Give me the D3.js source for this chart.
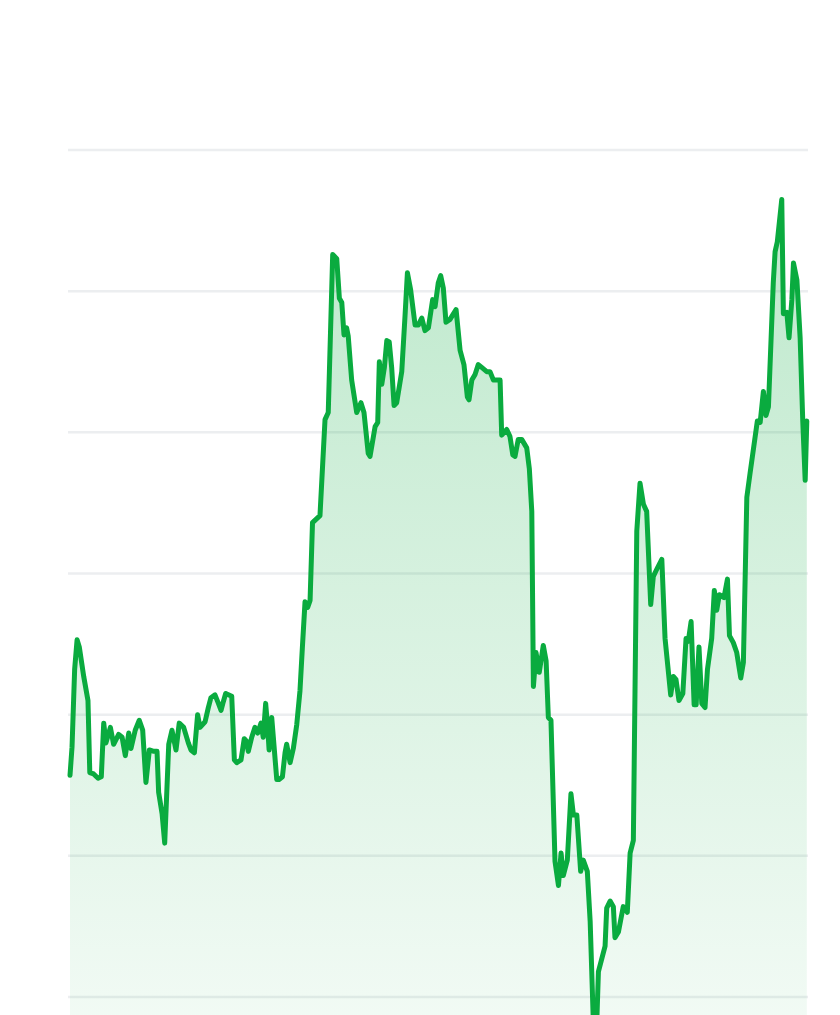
<!DOCTYPE html>
<html>
<head>
<meta charset="utf-8">
<script src="https://cdn.jsdelivr.net/npm/d3@7"></script>
<style>
  html, body { margin: 0; padding: 0; background: #ffffff; overflow: hidden; }
  svg { display: block; }
</style>
</head>
<body>
<svg id="chart" width="840" height="1015"></svg>
<script>
// Day index (0..365) of each reading
const days = [
  0, 1.0, 2.3, 3.5, 4.6, 6.8, 8.9, 9.8, 11.7, 13.9, 15.5, 16.7, 17.8, 20.0, 21.6, 24.1, 25.8, 27.4, 29.1, 30.2,
  32.3, 34.3, 36.0, 37.6, 39.3, 41.5, 43.1, 43.9, 45.6, 46.9, 48.9, 50.5, 52.5, 54.1, 56.3, 58.6, 59.9, 61.6, 63.2, 64.4,
  66.9, 68.5, 69.8, 71.8, 73.5, 74.8, 75.9, 77.1, 80.1, 81.4, 82.6, 84.7, 86.3, 87.5, 88.3, 90.0, 91.6, 93.0, 94.6, 95.7,
  96.9, 97.9, 98.6, 99.9, 100.7, 102.4, 103.5, 105.2, 106.5, 107.3, 109.0, 110.6, 112.3, 113.9, 115.1, 116.4, 117.7, 118.9, 120.1, 123.8,
  126.3, 127.9, 130.1, 132.1, 133.4, 134.6, 135.7, 137.0, 137.8, 139.5, 142.0, 144.1, 145.6, 147.7, 148.6, 151.1, 152.4, 153.2, 154.4, 155.7,
  156.9, 158.1, 159.3, 160.5, 161.8, 164.3, 165.9, 167.1, 168.7, 170.9, 172.5, 174.2, 175.8, 177.5, 179.6, 180.8, 182.4, 183.6, 184.9, 186.2,
  188.2, 191.2, 193.2, 195.1, 196.8, 197.6, 199.0, 200.6, 202.2, 203.9, 206.4, 208.0, 209.7, 213.0, 213.8, 216.3, 217.9, 219.3, 220.4, 222.0,
  223.7, 226.2, 227.5, 228.7, 229.5, 230.8, 232.4, 234.4, 235.8, 236.9, 238.2, 240.2, 241.9, 243.2, 244.3, 246.3, 248.1, 249.3, 251.0, 252.9,
  254.2, 256.2, 257.6, 259.3, 261.0, 261.7, 265.0, 265.8, 267.5, 269.1, 269.9, 271.6, 274.0, 276.0, 277.4, 279.0, 280.7, 282.3, 284.0, 285.6,
  287.6, 288.9, 290.6, 293.1, 294.7, 297.5, 298.8, 300.1, 301.6, 303.5, 305.1, 306.2, 307.6, 309.1, 310.1, 311.5, 312.9, 314.5, 315.7, 317.8,
  319.1, 320.3, 321.6, 323.9, 325.6, 326.6, 328.5, 330.2, 332.2, 333.5, 335.2, 336.8, 340.4, 341.8, 343.4, 344.7, 345.9, 348.3, 349.2, 350.3,
  352.5, 353.3, 355.0, 356.1, 357.5, 358.3, 360.0, 361.6, 362.9, 364.1, 364.9
];

// Value of each reading
const values = [
  15.7, 17.7, 23.2, 25.3, 24.8, 22.7, 21.0, 15.9, 15.8, 15.5, 15.6, 19.4, 18.0, 19.1, 17.9, 18.6, 18.4, 17.1, 18.7, 17.6,
  18.9, 19.6, 18.9, 15.2, 17.5, 17.4, 17.4, 14.5, 13.0, 10.9, 17.9, 18.9, 17.5, 19.4, 19.1, 18.0, 17.5, 17.3, 20.0, 19.1,
  19.5, 20.5, 21.2, 21.4, 20.8, 20.3, 20.9, 21.5, 21.3, 16.8, 16.6, 16.8, 18.3, 18.1, 17.4, 18.4, 19.1, 18.7, 19.4, 18.4,
  20.8, 19.1, 17.5, 19.8, 18.4, 15.4, 15.4, 15.6, 17.3, 17.9, 16.6, 17.6, 19.3, 21.7, 24.8, 28.0, 27.6, 28.1, 33.6, 34.1,
  40.9, 41.4, 52.6, 52.3, 49.5, 49.2, 46.9, 47.4, 46.8, 43.7, 41.4, 42.1, 41.4, 38.5, 38.3, 40.4, 40.7, 45.0, 43.4, 44.6,
  46.5, 46.4, 44.6, 41.9, 42.1, 44.3, 48.2, 51.3, 50.1, 47.6, 47.6, 48.1, 47.2, 47.4, 49.4, 48.9, 50.6, 51.1, 50.2, 47.8,
  48.0, 48.7, 45.8, 44.8, 42.5, 42.3, 43.7, 44.1, 44.8, 44.6, 44.3, 44.3, 43.7, 43.7, 39.8, 40.2, 39.7, 38.4, 38.3, 39.5,
  39.5, 38.9, 37.4, 34.4, 22.0, 24.4, 23.0, 24.9, 23.8, 19.8, 19.6, 9.6, 7.9, 10.2, 8.6, 9.7, 14.4, 12.9, 12.9, 8.9,
  9.7, 8.9, 5.4, -2.3, -1.3, 1.8, 3.6, 6.3, 6.8, 6.4, 4.2, 4.6, 6.4, 6.0, 10.2, 11.1, 33.0, 36.4, 34.9, 34.4,
  27.8, 29.8, 30.3, 31.0, 25.4, 21.4, 22.7, 22.5, 21.0, 21.5, 25.4, 25.2, 26.6, 20.7, 20.7, 24.8, 20.8, 20.5, 23.2, 25.4,
  28.8, 27.4, 28.5, 28.3, 29.6, 25.6, 25.1, 24.4, 22.6, 23.7, 35.4, 37.1, 40.8, 40.7, 42.9, 41.2, 41.8, 50.6, 52.8, 53.5,
  56.5, 48.4, 48.5, 46.7, 49.4, 52.0, 50.8, 46.7, 40.8, 36.6, 40.8
];

// Gridline values
const gridTicks = [0, 10, 20, 30, 40, 50, 60];

const data = days.map((d, i) => ({ d: d, v: values[i] }));

const svg = d3.select("#chart");

const x = d3.scaleLinear().domain([0, 365]).range([70, 807]);
const y = d3.scaleLinear().domain([0, 60]).range([997, 150]);
const baseValue = -3;

const defs = svg.append("defs");
const grad = defs.append("linearGradient")
  .attr("id", "fillGrad")
  .attr("gradientUnits", "userSpaceOnUse")
  .attr("x1", 0).attr("x2", 0)
  .attr("y1", y(57)).attr("y2", y(baseValue));
grad.append("stop").attr("offset", "0%").attr("stop-color", "#0aab3f").attr("stop-opacity", 0.27);
grad.append("stop").attr("offset", "100%").attr("stop-color", "#0aab3f").attr("stop-opacity", 0.05);

// Gridlines
svg.append("g")
  .selectAll("line")
  .data(gridTicks)
  .join("line")
  .attr("x1", 68)
  .attr("x2", 808)
  .attr("y1", d => y(d))
  .attr("y2", d => y(d))
  .attr("stroke", "#eceef0")
  .attr("stroke-width", 2.5);

const area = d3.area()
  .x(p => x(p.d))
  .y0(y(baseValue))
  .y1(p => y(p.v));

svg.append("path")
  .datum(data)
  .attr("d", area)
  .attr("fill", "url(#fillGrad)");

const line = d3.line()
  .x(p => x(p.d))
  .y(p => y(p.v));

svg.append("path")
  .datum(data)
  .attr("d", line)
  .attr("fill", "none")
  .attr("stroke", "#0aab3f")
  .attr("stroke-width", 5)
  .attr("stroke-linejoin", "round")
  .attr("stroke-linecap", "round");
</script>
</body>
</html>
